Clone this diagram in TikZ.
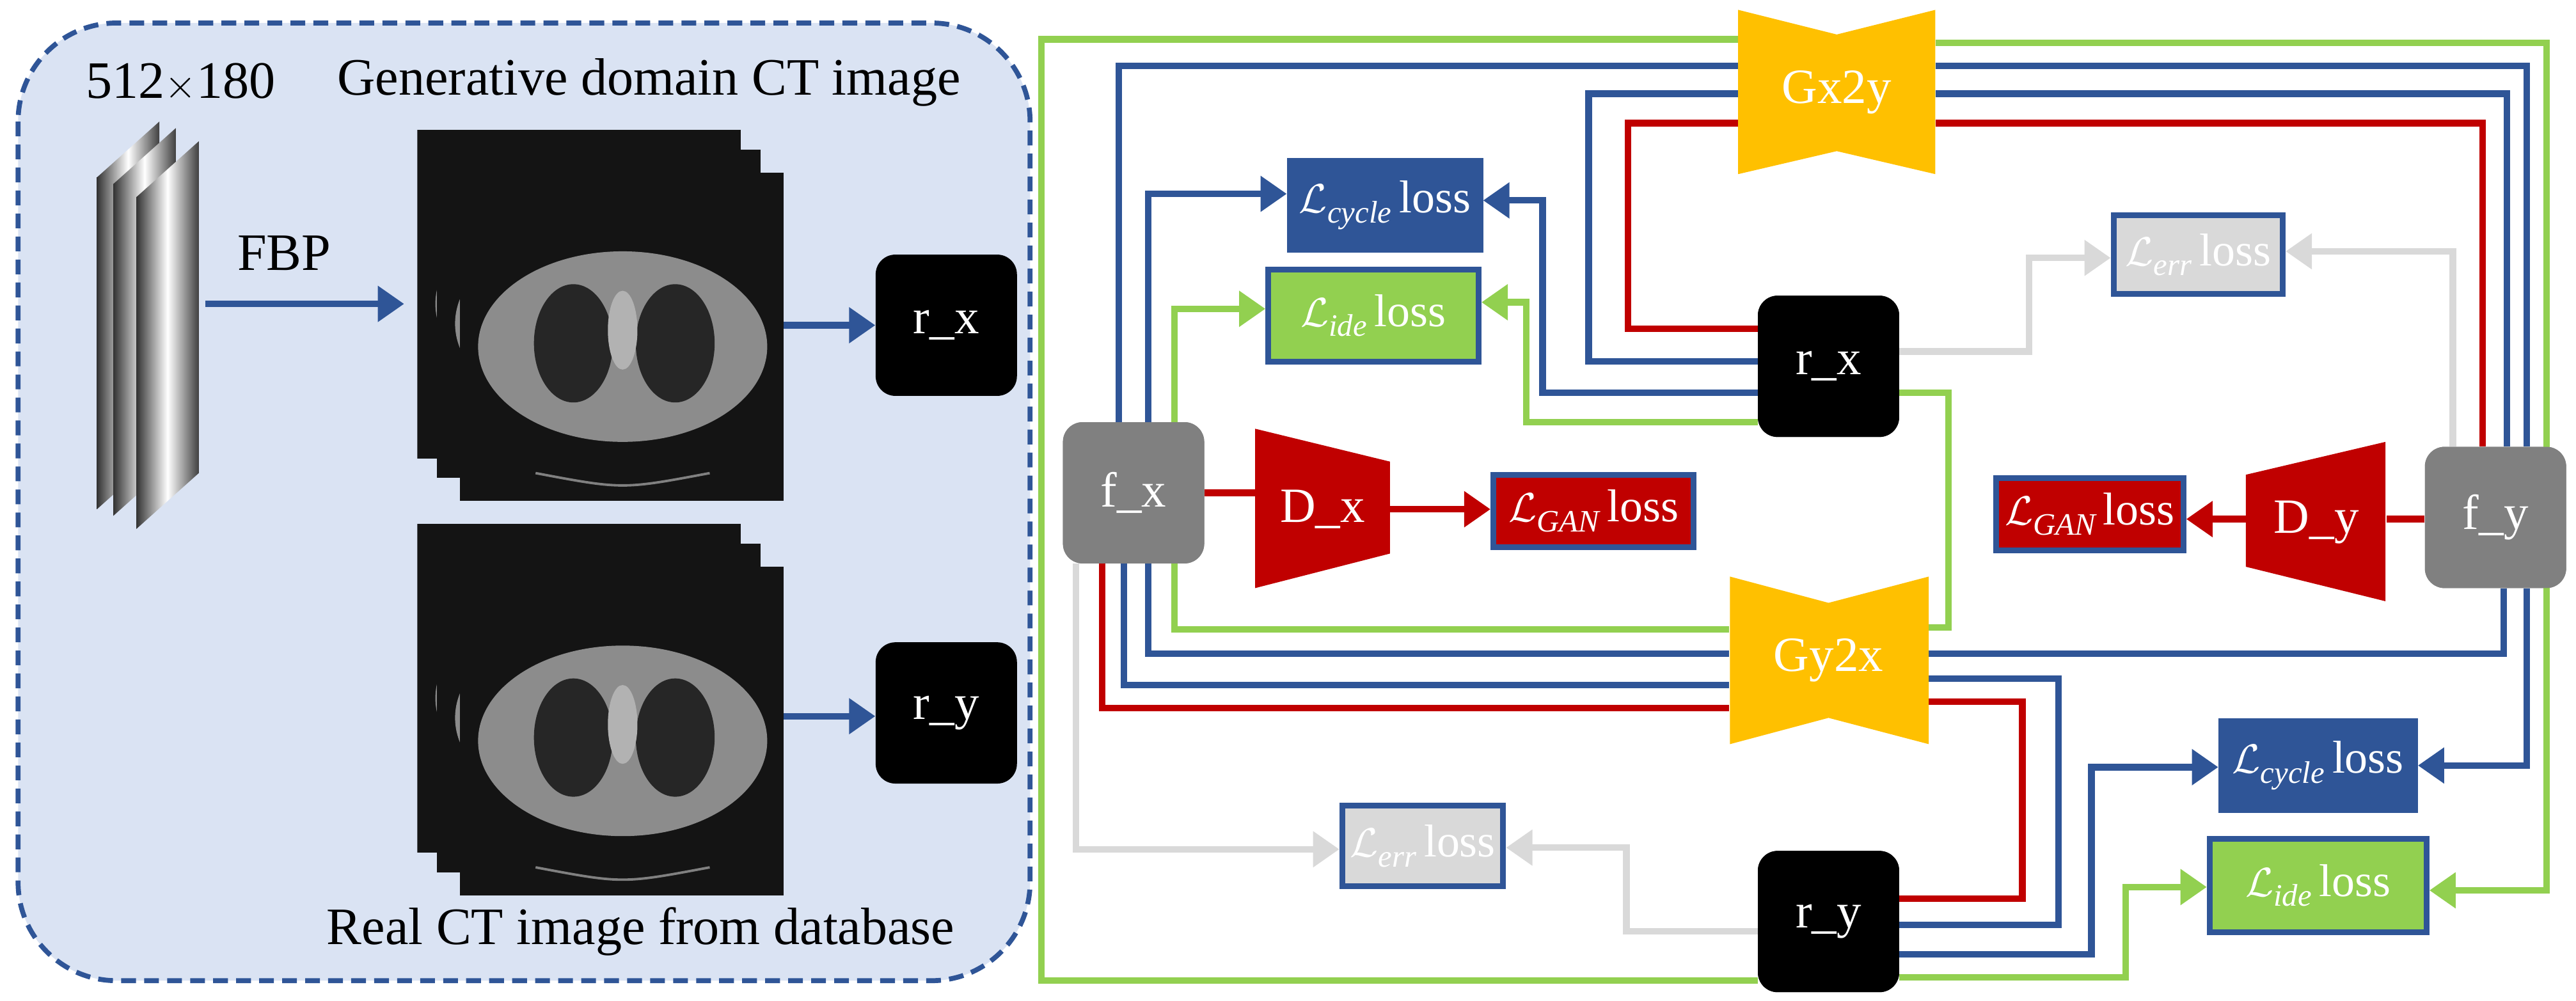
\documentclass[tikz,border=0pt]{standalone}
\usepackage{fontspec}
\setmainfont{Liberation Serif}
\usetikzlibrary{arrows.meta,calc}
\definecolor{cblue}{HTML}{2F5597}
\definecolor{cgreen}{HTML}{92D050}
\definecolor{cred}{HTML}{C00000}
\definecolor{cgray}{HTML}{D9D9D9}
\definecolor{cyel}{HTML}{FFC000}
\definecolor{cpanel}{HTML}{DAE3F3}
\newcommand{\lossl}[1]{$\mathcal{L}$\raisebox{-6pt}{\fontsize{19}{19}\selectfont\itshape #1}\,loss}
\begin{document}
\begin{tikzpicture}[x=1pt,y=-1pt,
  ln/.style={line width=4pt},
  ar/.style={ln,-{Triangle[length=16pt,width=21pt]}},
  bl/.style={draw=cblue,ln}, gr/.style={draw=cgreen,ln}, rd/.style={draw=cred,ln}, gy/.style={draw=cgray,ln},
  blk/.style={fill=black,rounded corners=12pt,minimum width=86pt,minimum height=86pt,text=white,font=\fontsize{30}{30}\selectfont,inner sep=0pt},
  gry/.style={blk,fill=black!50},
  wt/.style={text=white,font=\fontsize{30}{30}\selectfont},
  loss/.style={text=white,font=\fontsize{28}{28}\selectfont,inner sep=0pt,draw=cblue,line width=3.5pt},
  big/.style={font=\fontsize{32}{34}\selectfont}]
\useasboundingbox (0,0) rectangle (1568,609);
% left panel
\draw[cblue,line width=3pt,dash pattern=on 9pt off 5pt,fill=cpanel,rounded corners=60pt] (11,14) rectangle (627,597);
\node[big] (t1) at (110,50) {512$\times$180};
\node[big] (t2) at (395,50) {Generative domain CT image};
\node[big] (t3) at (390,567) {Real CT image from database};
\node[big] (fbp) at (173,154) {FBP};
% sinogram
\foreach \dx/\dy in {0/0,10/4,24/12}{
  \shade[left color=black!80,right color=black!75,middle color=white]
   ($(59+\dx,108+\dy)$) -- ($(97+\dx,74+\dy)$) -- ($(97+\dx,276+\dy)$) -- ($(59+\dx,310+\dy)$) -- cycle;}
% CT images
\foreach \yo in {0,240}{
 \foreach \dx/\dy in {0/0,12/12,26/26}{
  \begin{scope}
  \clip (254+\dx,79+\yo+\dy) rectangle (451+\dx,279+\yo+\dy);
  \fill[black!92] (254+\dx,79+\yo+\dy) rectangle (451+\dx,279+\yo+\dy);
  \fill[black!45] (353+\dx,185+\yo+\dy) ellipse (88pt and 58pt);
  \fill[black!85] (323+\dx,183+\yo+\dy) ellipse (24pt and 36pt);
  \fill[black!85] (385+\dx,183+\yo+\dy) ellipse (24pt and 36pt);
  \fill[black!30] (353+\dx,175+\yo+\dy) ellipse (9pt and 24pt);
  \draw[black!50,line width=1.5pt] (300+\dx,262+\yo+\dy) .. controls (353+\dx,272+\yo+\dy) .. (406+\dx,262+\yo+\dy);
  \end{scope}}}
\node[blk] (rx0) at (576,198) {r\_x};
\node[blk] (ry0) at (576,434) {r\_y};
\coordinate (ct1) at (477,198);
\coordinate (ct2) at (477,436);
\coordinate (sg) at (125,185);
\coordinate (ctl) at (246,185);
\draw[ar,draw=cblue] (sg) -- (ctl);
\draw[ar,draw=cblue] (ct1) -- (rx0.west|-ct1);
\draw[ar,draw=cblue] (ct2) -- (ry0.west|-ct2);
% right: nodes
\node[gry] (fx) at (690,300) {f\_x};
\node[gry] (fy) at (1519,315) {f\_y};
\node[blk] (rx) at (1113,223) {r\_x};
\node[blk] (ry) at (1113,561) {r\_y};
\node[minimum width=120pt,minimum height=100pt,inner sep=0pt] (gx) at (1118,56) {};
\node[minimum width=121pt,minimum height=102pt,inner sep=0pt] (gy) at (1113,402) {};
\node[minimum width=82pt,minimum height=97pt] (dx) at (805,310) {};
\node[minimum width=85pt,minimum height=97pt] (dy) at (1410,318) {};
\node[loss,fill=cblue,minimum width=116pt,minimum height=54pt] (lc1) at (843,125) {\lossl{cycle}};
\node[loss,fill=cgreen,minimum width=128pt,minimum height=56pt] (li1) at (836,192) {\lossl{ide}};
\node[loss,fill=cgray,minimum width=103pt,minimum height=48pt] (le1) at (1338,155) {\lossl{err}};
\node[loss,fill=cred,minimum width=122pt,minimum height=44pt] (lg1) at (970,311) {\lossl{GAN}};
\node[loss,fill=cred,minimum width=114pt,minimum height=44pt] (lg2) at (1272,313) {\lossl{GAN}};
\node[loss,fill=cblue,minimum width=118pt,minimum height=54pt] (lc2) at (1411,466) {\lossl{cycle}};
\node[loss,fill=cgreen,minimum width=132pt,minimum height=57pt] (li2) at (1411,539) {\lossl{ide}};
\node[loss,fill=cgray,minimum width=98pt,minimum height=49pt] (le2) at (866,515) {\lossl{err}};
% connectors
\draw[gr] (ry.west|-0,597) -- (634,597) -- (634,24) -- (gx.west|-0,24);
\draw[ar,draw=cgreen] (gx.east|-0,26) -- (1550,26) -- (1550,542) -- (li2.east|-0,542);
\draw[bl] (fx.north-|681,0) -- (681,40) -- (gx.west|-0,40);
\draw[bl] (gx.east|-0,40) -- (1538,40) -- (fy.north-|1538,0);
\draw[bl] (rx.west|-0,220) -- (967,220) -- (967,57) -- (gx.west|-0,57);
\draw[bl] (gx.east|-0,57) -- (1526,57) -- (fy.north-|1526,0);
\draw[rd] (rx.west|-0,200) -- (991,200) -- (991,75) -- (gx.west|-0,75);
\draw[rd] (gx.east|-0,75) -- (1511,75) -- (fy.north-|1511,0);
\draw[ar,draw=cblue] (fx.north-|699,0) -- (699,118) -- (lc1.west|-0,118);
\draw[ar,draw=cblue] (rx.west|-0,239) -- (939,239) -- (939,122) -- (lc1.east|-0,122);
\draw[ar,draw=cgreen] (fx.north-|715,0) -- (715,188) -- (li1.west|-0,188);
\draw[ar,draw=cgreen] (rx.west|-0,257) -- (929,257) -- (929,184) -- (li1.east|-0,184);
\draw[gr] (rx.east|-0,239) -- (1186,239) -- (1186,382) -- (gy.east|-0,382);
\draw[gr] (gy.west|-0,383) -- (715,383) -- (fx.south-|715,0);
\draw[ar,draw=cgray] (rx.east|-0,214) -- (1235,214) -- (1235,157) -- (le1.west|-0,157);
\draw[ar,draw=cgray] (fy.north-|1493,0) -- (1493,153) -- (le1.east|-0,153);
\draw[rd] (fx.east|-0,300) -- (dx.west|-0,300);
\draw[ar,draw=cred] (dx.east|-0,310) -- (lg1.west|-0,310);
\draw[rd] (fy.west|-0,316) -- (dy.east|-0,316);
\draw[ar,draw=cred] (dy.west|-0,316) -- (lg2.east|-0,316);
\draw[bl] (gy.west|-0,398) -- (699,398) -- (fx.south-|699,0);
\draw[bl] (gy.east|-0,398) -- (1524,398) -- (fy.south-|1524,0);
\draw[bl] (gy.west|-0,417) -- (684,417) -- (fx.south-|684,0);
\draw[rd] (gy.west|-0,431) -- (671,431) -- (fx.south-|671,0);
\draw[ar,draw=cgray] (fx.south-|655,0) -- (655,517) -- (le2.west|-0,517);
\draw[bl] (gy.east|-0,413) -- (1253,413) -- (1253,563) -- (ry.east|-0,563);
\draw[rd] (gy.east|-0,427) -- (1231,427) -- (1231,547) -- (ry.east|-0,547);
\draw[ar,draw=cgray] (ry.west|-0,567) -- (990,567) -- (990,516) -- (le2.east|-0,516);
\draw[ar,draw=cblue] (ry.east|-0,581) -- (1273,581) -- (1273,467) -- (lc2.west|-0,467);
\draw[ar,draw=cblue] (fy.south-|1538,0) -- (1538,466) -- (lc2.east|-0,466);
\draw[ar,draw=cgreen] (ry.east|-0,595) -- (1294,595) -- (1294,540) -- (li2.west|-0,540);
% redraw boxes on top
\node[gry] at (fx) {f\_x};
\node[gry] at (fy) {f\_y};
\node[blk] at (rx) {r\_x};
\node[blk] at (ry) {r\_y};
% bowties
\fill[cyel] (1058,6) -- (1118,21) -- (1178,6) -- (1178,106) -- (1118,92) -- (1058,106) -- cycle;
\node[wt] at (gx) {Gx2y};
\fill[cyel] (1053,351) -- (1113,367) -- (1174,351) -- (1174,453) -- (1113,437) -- (1053,453) -- cycle;
\node[wt] at (gy) {Gy2x};
% discriminators
\fill[cred] (764,261) -- (846,281) -- (846,337) -- (764,358) -- cycle;
\node[wt] at (dx) {D\_x};
\fill[cred] (1452,269) -- (1367,289) -- (1367,345) -- (1452,366) -- cycle;
\node[wt] at (dy) {D\_y};
\end{tikzpicture}
\end{document}
